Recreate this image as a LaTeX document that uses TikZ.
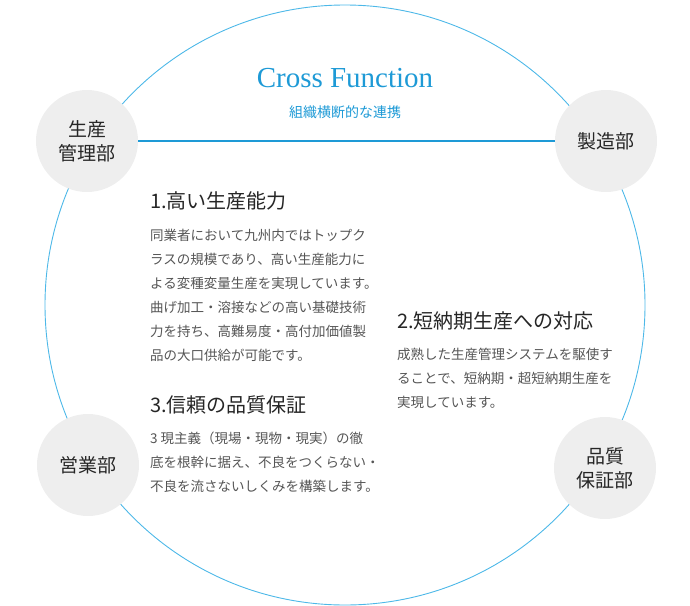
\documentclass[tikz,border=0pt]{standalone}
\usepackage{fontspec}
\usepackage{tikz}
\usetikzlibrary{positioning}
\newfontfamily\jpfont{Noto Sans CJK JP}
\newfontfamily\titulofont{Liberation Serif}
\definecolor{colorCirculo}{HTML}{4DB8E8}
\definecolor{colorTitulo}{HTML}{1E9AD6}
\definecolor{fondoBu}{HTML}{EEEEEE}
\definecolor{textoCuerpo}{HTML}{555555}

\begin{document}
\begin{tikzpicture}[x=1pt, y=-1pt,
        bu/.style={circle, fill=fondoBu, minimum size=102pt, inner sep=0pt, align=center,
            font=\jpfont\fontsize{19}{24}\selectfont, text=black!85},
        mi/.style={anchor=north west, inner sep=0pt, text=black!85,
            font=\jpfont\fontsize{20}{24}\selectfont},
        ho/.style={anchor=north west, inner sep=0pt, align=left, text=textoCuerpo,
            font=\jpfont\fontsize{13.5}{24}\selectfont}]
        \useasboundingbox (0,0) rectangle (690,605);
        \draw[colorCirculo, line width=0.9pt] (345,305) circle[radius=300pt];
        \node[bu] (kanri) at (87,141) {生産\\管理部};
        \node[bu] (seizo) at (606,141) {製造部};
        \node[bu] (eigyo) at (88,465) {営業部};
        \node[bu] (hinshitsu) at (605,468) {品質\\保証部};
        \draw[colorTitulo, line width=1.1pt] (kanri) -- (seizo);
        % titulo
        \node[text=colorTitulo, font=\titulofont\fontsize{29}{30}\selectfont] (titulo) at (345,78) {Cross Function};
        \node[text=colorTitulo, font=\jpfont\fontsize{14}{16}\selectfont] (sub) at (345,112) {組織横断的な連携};
        % puntos
        \node[mi] (m1) at (150,191) {1.高い生産能力};
        \node[ho] (h1) at (150,229) {同業者において九州内ではトップク\\ラスの規模であり、高い生産能力に\\よる変種変量生産を実現しています。\\曲げ加工・溶接などの高い基礎技術\\力を持ち、高難易度・高付加価値製\\品の大口供給が可能です。};
        \node[mi] (m2) at (397,311) {2.短納期生産への対応};
        \node[ho] (h2) at (397,348) {成熟した生産管理システムを駆使す\\ることで、短納期・超短納期生産を\\実現しています。};
        \node[mi] (m3) at (150,396) {3.信頼の品質保証};
        \node[ho] (h3) at (150,432) {3 現主義（現場・現物・現実）の徹\\底を根幹に据え、不良をつくらない・\\不良を流さないしくみを構築します。};
    \end{tikzpicture}
\end{document}
